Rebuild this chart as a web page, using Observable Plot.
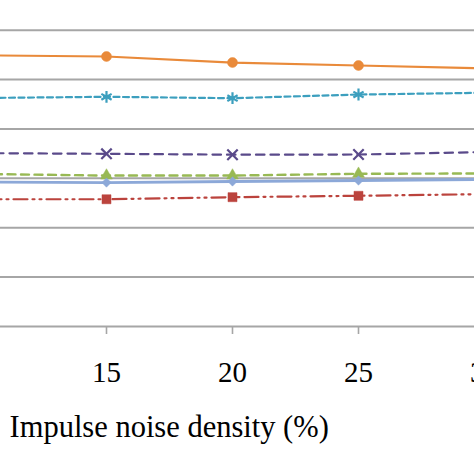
<!DOCTYPE html>
<html>
<head>
<meta charset="utf-8">
<script src="https://cdn.jsdelivr.net/npm/d3@7"></script>
<script src="https://cdn.jsdelivr.net/npm/@observablehq/plot@0.6"></script>
<style>
  html, body { margin: 0; padding: 0; background: #fff; overflow: hidden; }
  #chart svg { overflow: visible; }
</style>
</head>
<body>
<div id="chart"></div>
<script>
// Impulse noise density (%) on the x axis
const density = [10, 15, 20, 25, 30];
const xTicks = [15, 20, 25, 30];
const yGrid = [5, 10, 15, 20, 25, 30];

// One value per noise density for each filter
const filterA = [27.45, 27.33, 26.72, 26.42, 26.12];
const filterB = [23.13, 23.25, 23.11, 23.48, 23.66];
const filterC = [17.55, 17.48, 17.39, 17.41, 17.66];
const filterD = [15.44, 15.28, 15.28, 15.46, 15.49];
const filterE = [14.62, 14.57, 14.68, 14.78, 14.89];
const filterF = [12.88, 12.88, 13.09, 13.23, 13.40];

const seriesNames = ["A", "B", "C", "D", "E", "F"];
const seriesValues = [filterA, filterB, filterC, filterD, filterE, filterF];

// Line and marker style for each series
const styles = {
  A: {color: "#E98A3A", dash: null, symbol: "circle", r: 5, strokeWidth: 2.2},
  B: {color: "#3C9FBE", dash: "6,3.5", symbol: "asterisk", r: 5.6, strokeWidth: 2.2},
  C: {color: "#5A4A8A", dash: "8.5,6", symbol: "times", r: 4.8, strokeWidth: 2.2},
  D: {color: "#98B954", dash: "8,5.5", symbol: "triangle", r: 4.4, strokeWidth: 2.4},
  E: {color: "#8CA8D8", dash: null, symbol: "diamond2", r: 4.2, strokeWidth: 2.8},
  F: {color: "#BB433D", dash: "14,5,2,5,2,5", symbol: "square", r: 5.1, strokeWidth: 2.2}
};

const rows = seriesNames.flatMap((name, i) =>
  density.map((d, j) => ({series: name, density: d, value: seriesValues[i][j]}))
);

const seriesMarks = seriesNames.flatMap((name) => {
  const s = styles[name];
  const data = rows.filter((r) => r.series === name);
  const filled = s.symbol !== "asterisk" && s.symbol !== "times";
  return [
    Plot.line(data, {
      x: "density", y: "value",
      stroke: s.color, strokeWidth: s.strokeWidth,
      strokeDasharray: s.dash, clip: true
    }),
    Plot.dot(data, {
      x: "density", y: "value",
      symbol: s.symbol, r: s.r,
      fill: filled ? s.color : "none",
      stroke: s.color, strokeWidth: filled ? 0.5 : 2.2,
      clip: true
    })
  ];
});

const grey = "#A6A6A6";

const chart = Plot.plot({
  width: 474,
  height: 474,
  marginTop: 0,
  marginRight: 0,
  marginLeft: 0,
  marginBottom: 148,
  style: {fontFamily: "'Liberation Serif', 'Times New Roman', serif", fontSize: "29px", background: "#fff", color: "#000"},
  x: {type: "linear", domain: [10.794, 29.603]},
  y: {domain: [0, 33], axis: null},
  marks: [
    Plot.gridY(yGrid, {stroke: grey, strokeOpacity: 1, strokeWidth: 2}),
    Plot.ruleY([0], {stroke: grey, strokeWidth: 2}),
    Plot.axisX(xTicks, {
      tickSize: 8, tickPadding: 27, stroke: grey, strokeWidth: 1.6,
      fill: "#000", label: null, tickFormat: (d) => String(d)
    }),
    ...seriesMarks,
    Plot.text(["Impulse noise density (%)"], {
      frameAnchor: "bottom-left", textAnchor: "start", lineAnchor: "bottom",
      dx: 9, dy: 110, fontSize: 30.5, fill: "#000"
    })
  ]
});

document.getElementById("chart").append(chart);
</script>
</body>
</html>
